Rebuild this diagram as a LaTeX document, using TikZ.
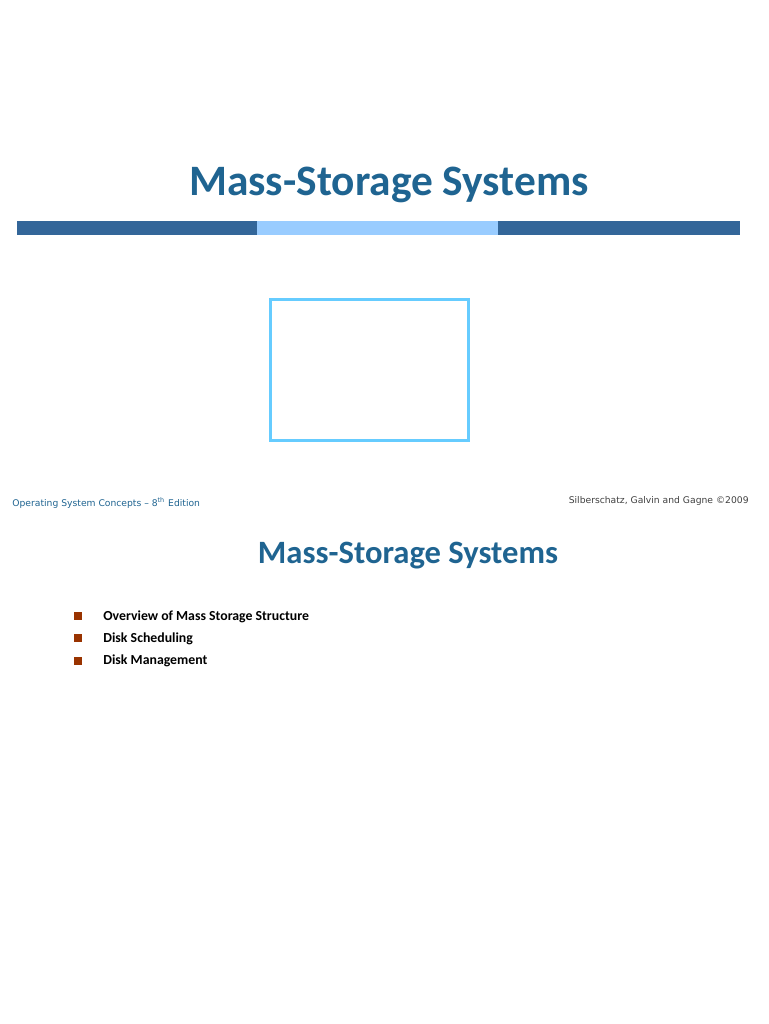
\documentclass[tikz,border=0pt]{standalone}
\usepackage{fontspec}
\setmainfont{Carlito}
\newfontfamily\footfont{DejaVu Sans}
\definecolor{ttl}{HTML}{1F6491}
\definecolor{bardark}{HTML}{336699}
\definecolor{barlight}{HTML}{99CCFF}
\definecolor{boxc}{HTML}{66CCFF}
\definecolor{bul}{HTML}{993300}
\tikzset{bulletsq/.style={fill=bul,minimum size=4pt,inner sep=0pt},
item/.style={anchor=west,font=\bfseries\fontsize{6.9}{8}\selectfont,inner sep=0pt}}
\begin{document}
\begin{tikzpicture}[x=0.5pt,y=-0.5pt]
\useasboundingbox (0,0) rectangle (768,1024);
\fill[white] (0,0) rectangle (768,1024);
\node[font=\bfseries\fontsize{21.7}{24}\selectfont,text=ttl] (t1) at (389,185) {Mass-Storage Systems};
\fill[bardark] (17,221) rectangle (257,235);
\fill[barlight] (257,221) rectangle (498,235);
\fill[bardark] (498,221) rectangle (740,235);
\draw[boxc,line width=1.5pt] (270,299) rectangle (468,440);
\node[anchor=west,font=\footfont\fontsize{4.6}{5}\selectfont,text=ttl,inner sep=0pt] (f1) at (12,503) {Operating System Concepts – 8\textsuperscript{th} Edition};
\node[anchor=east,font=\footfont\fontsize{4.6}{5}\selectfont,text=black!75,inner sep=0pt] (f2) at (749,501) {Silberschatz, Galvin and Gagne \textcopyright2009};
\node[font=\bfseries\fontsize{16.3}{19}\selectfont,text=ttl] (t2) at (408,556) {Mass-Storage Systems};
\node[bulletsq] (b1) at (78,616) {};
\node[bulletsq] (b2) at (78,638) {};
\node[bulletsq] (b3) at (78,661) {};
\node[item] (i1) at (103,617) {Overview of Mass Storage Structure};
\node[item] (i2) at (103,639) {Disk Scheduling};
\node[item] (i3) at (103,661) {Disk Management};
\end{tikzpicture}
\end{document}
